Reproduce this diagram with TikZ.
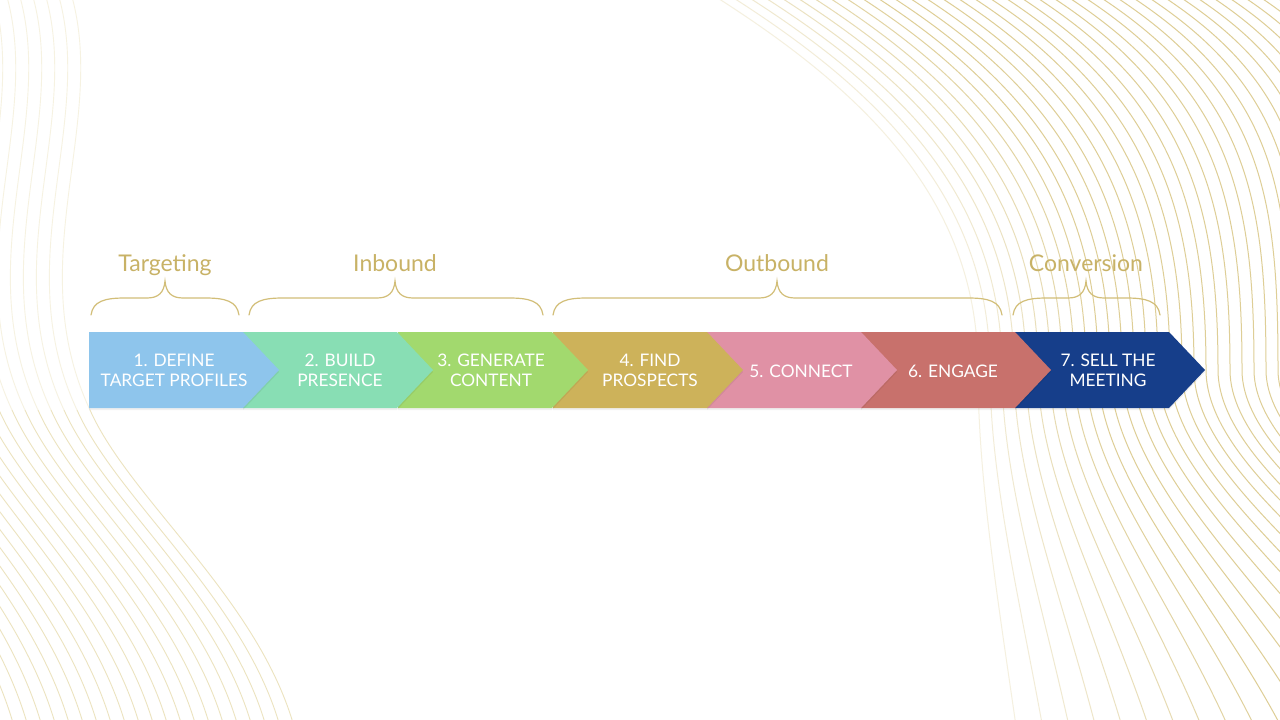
\documentclass[tikz,border=0pt]{standalone}
\usepackage{fontspec}
\setmainfont{Lato}
\definecolor{cA}{RGB}{142,197,236}
\definecolor{cB}{RGB}{136,222,180}
\definecolor{cC}{RGB}{162,217,110}
\definecolor{cD}{RGB}{205,178,90}
\definecolor{cE}{RGB}{224,145,165}
\definecolor{cF}{RGB}{200,113,108}
\definecolor{cG}{RGB}{22,62,138}
\definecolor{goldtxt}{RGB}{200,178,102}
\definecolor{goldbrace}{RGB}{210,190,120}
\definecolor{waveR}{RGB}{222,206,150}
\definecolor{waveL}{RGB}{230,218,170}
\tikzset{
  stagetxt/.style={text=white, align=center, inner sep=0pt,
    font=\fontsize{17.3}{20}\selectfont},
  phasetxt/.style={text=goldtxt, inner sep=0pt, anchor=base,
    font=\fontsize{23}{26}\selectfont},
  bracepath/.style={draw=goldbrace, line width=1.2pt, line cap=round},
  waverline/.style={draw=waveR, line width=1pt},
  wavelline/.style={draw=waveL, line width=0.9pt},
}
\begin{document}
\begin{tikzpicture}[x=1pt,y=-1pt]
\useasboundingbox (0,0) rectangle (1280,720);
\fill[white] (0,0) rectangle (1280,720);
% background waves
\begin{scope}
\clip (0,0) rectangle (1280,720);
\foreach \k in {0,...,40} {
  \pgfmathsetmacro{\op}{min(1,0.3+0.07*\k)}
  \draw[waverline, draw opacity=\op] ({705+16*\k},-10) .. controls ({865+16*\k},90) and ({978+12*\k},200) .. ({978+12*\k},370) .. controls ({978+12*\k},480) and ({998+22*\k},600) .. ({1018+27*\k},740);
}
\foreach \k in {0,...,28} {
  \draw[wavelline, draw opacity=0.35] ({70-13*\k},-10) .. controls ({110-13*\k},120) and ({20-13*\k},260) .. ({90-13*\k},410);
  \draw[wavelline, draw opacity=0.75] ({90-13*\k},410) .. controls ({130-13*\k},500) and ({260-14*\k},600) .. ({295-14*\k},730);
}
\end{scope}
% chevrons (drawn right to left so each tip fills the next notch)
\foreach \x/\c in {1015/cG, 861/cF, 707/cE, 553/cD, 398/cC, 243/cB, 89/cA} {
  \fill[black, opacity=0.06] (\x,334) -- ({\x+154},334) -- ({\x+190},372) -- ({\x+154},410) -- (\x,410) -- cycle;
  \fill[\c] (\x,332) -- ({\x+154},332) -- ({\x+190},370) -- ({\x+154},408) -- (\x,408) -- cycle;
}
% stage labels
\node[stagetxt] (s1) at (174,370) {1. DEFINE\\TARGET PROFILES};
\node[stagetxt] (s2) at (340,370) {2. BUILD\\PRESENCE};
\node[stagetxt] (s3) at (491,370) {3. GENERATE\\CONTENT};
\node[stagetxt] (s4) at (650,370) {4. FIND\\PROSPECTS};
\node[stagetxt] (s5) at (801,371) {5. CONNECT};
\node[stagetxt] (s6) at (953,371) {6. ENGAGE};
\node[stagetxt] (s7) at (1108,370) {7. SELL THE\\MEETING};
% phase labels
\node[phasetxt] (p1) at (165,271) {Targeting};
\node[phasetxt] (p2) at (395,271) {Inbound};
\node[phasetxt] (p3) at (777,271) {Outbound};
\node[phasetxt] (p4) at (1086,271) {Conversion};
% braces
\foreach \l/\m/\r in {91/165/239, 249/395/543, 553/777/1002, 1013/1086/1160} {
  \draw[bracepath] (\l,315) .. controls ({\l+2},301) and ({\l+14},298) .. ({\l+34},298)
    -- ({\m-18},298) .. controls ({\m-7},298) and ({\m-1},293) .. (\m,281)
    .. controls ({\m+1},293) and ({\m+7},298) .. ({\m+18},298)
    -- ({\r-34},298) .. controls ({\r-14},298) and ({\r-2},301) .. (\r,315);
}
\end{tikzpicture}
\end{document}
